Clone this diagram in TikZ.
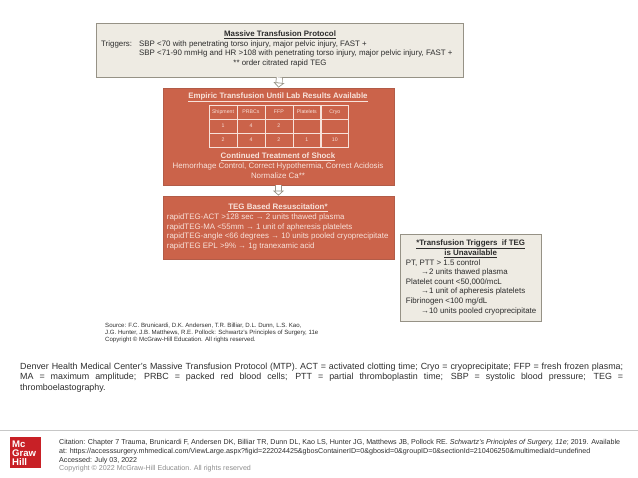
\documentclass[tikz,border=0pt]{standalone}
\usepackage{fontspec}
\setmainfont{Liberation Sans}
\usepackage{tikz}
\usetikzlibrary{arrows.meta,positioning,calc}
\usepackage{xcolor}
\definecolor{paleBeige}{RGB}{238,235,227}
\definecolor{beigeEdge}{RGB}{150,146,134}
\definecolor{brickRed}{RGB}{203,99,74}
\definecolor{brickEdge}{RGB}{178,92,72}
\definecolor{paleText}{RGB}{248,226,218}
\definecolor{inkGrey}{RGB}{45,45,45}
\definecolor{logoRed}{RGB}{200,32,38}

\begin{document}
\begin{tikzpicture}[x=1pt, y=-1pt, >=Latex]
  \tikzstyle{beigebox}=[rectangle, draw=beigeEdge, fill=paleBeige, line width=0.9pt, inner sep=0pt]
  \tikzstyle{redbox}=[rectangle, draw=brickEdge, fill=brickRed, line width=0.8pt, inner sep=0pt]
  \tikzstyle{line}=[inner sep=0pt, font=\fontsize{7.9}{9}\selectfont, text=inkGrey]
  \tikzstyle{boldline}=[line, font=\fontsize{7.9}{9}\selectfont\bfseries]
  \tikzstyle{paleline}=[line, text=paleText]
  \tikzstyle{paletitle}=[boldline, text=paleText]
  \tikzstyle{cell}=[rectangle, draw=paleText, line width=0.7pt, inner sep=0pt, minimum width=27.9pt, minimum height=14pt, font=\fontsize{5.2}{6}\selectfont, text=paleText]
  \tikzstyle{hollow}=[draw=beigeEdge, double=white, double distance=5.5pt, line width=0.7pt, -{Triangle[open, fill=white, length=5pt, width=11pt]}]
  \useasboundingbox (0,0) rectangle (638,478);

  \node[beigebox, minimum width=367pt, minimum height=54pt] (massive) at (279.5,50) {};
  \node[redbox, minimum width=231pt, minimum height=97pt] (empiric) at (278.5,136.5) {};
  \node[redbox, minimum width=231pt, minimum height=63pt] (teg) at (278.5,227.5) {};
  \node[beigebox, minimum width=141pt, minimum height=87pt] (unavailable) at (470.5,277.5) {};
  \draw[hollow] (massive.south) -- (empiric.north);
  \draw[hollow] (empiric.south) -- (teg.north);

  \node[boldline] (massivetitle) at (280,34.7) {\underline{Massive Transfusion Protocol}};
  \node[line, anchor=west] (triggers) at (101,44) {Triggers:};
  \node[line, anchor=west] (trigone) at (139,44) {SBP <70 with penetrating torso injury, major pelvic injury, FAST +};
  \node[line, anchor=west] (trigtwo) at (139,53.3) {SBP <71-90 mmHg and HR >108 with penetrating torso injury, major pelvic injury, FAST +};
  \node[line] (order) at (280,63) {** order citrated rapid TEG};

  \node[paletitle] (empirictitle) at (278,97) {\underline{Empiric Transfusion Until Lab Results Available}};
  \foreach \name/\txt [count=\col from 0] in {Shipment/Shipment, PRBCs/PRBCs, FFP/FFP, Platelets/Platelets, Cryo/Cryo}
    \node[cell] (head\name) at (223+\col*27.95,112) {\txt};
  \foreach \name/\txt [count=\col from 0] in {a/1, b/4, c/2, d/, e/}
    \node[cell] (first\name) at (223+\col*27.95,126) {\txt};
  \foreach \name/\txt [count=\col from 0] in {a/2, b/4, c/2, d/1, e/10}
    \node[cell] (second\name) at (223+\col*27.95,140) {\txt};
  \node[paletitle] (shocktitle) at (278,156.7) {\underline{Continued Treatment of Shock}};
  \node[paleline] (control) at (278,166) {Hemorrhage Control, Correct Hypothermia, Correct Acidosis};
  \node[paleline] (normalize) at (278,175.7) {Normalize Ca**};

  \node[paletitle] (tegtitle) at (278,208) {\underline{TEG Based Resuscitation*}};
  \node[paleline, anchor=west] (act) at (166.7,217.7) {rapidTEG-ACT >128 sec → 2 units thawed plasma};
  \node[paleline, anchor=west] (ma) at (166.7,227.3) {rapidTEG-MA <55mm → 1 unit of apheresis platelets};
  \node[paleline, anchor=west] (angle) at (166.7,236.7) {rapidTEG-angle <66 degrees → 10 units pooled cryoprecipitate};
  \node[paleline, anchor=west] (epl) at (166.7,246) {rapidTEG EPL >9\% → 1g tranexamic acid};

  \node[boldline] (unavtitle) at (470.7,244) {\underline{*Transfusion Triggers~ if TEG}};
  \node[boldline] (unavtitleb) at (470.7,254) {\underline{is Unavailable}};
  \node[line, anchor=west] (pt) at (405.7,263) {PT, PTT > 1.5 control};
  \node[line, anchor=west] (ptgive) at (421,272.7) {→2 units thawed plasma};
  \node[line, anchor=west] (plate) at (405.7,282) {Platelet count <50,000/mcL};
  \node[line, anchor=west] (plategive) at (421,291.7) {→1 unit of apheresis platelets};
  \node[line, anchor=west] (fib) at (405.7,301) {Fibrinogen <100 mg/dL};
  \node[line, anchor=west] (fibgive) at (421,311) {→10 units pooled cryoprecipitate};

  \node[line, anchor=north west, align=left, font=\fontsize{6.1}{7}\selectfont] (source) at (105,322.6) {Source: F.C. Brunicardi, D.K. Andersen, T.R. Billiar, D.L. Dunn, L.S. Kao,\\J.G. Hunter, J.B. Matthews, R.E. Pollock: Schwartz's Principles of Surgery, 11e\\Copyright © McGraw-Hill Education. All rights reserved.};

  \node[line, anchor=north west, text width=603pt, align=justify, font=\fontsize{8.9}{10.5}\selectfont] (caption) at (20,362.5) {Denver Health Medical Center's Massive Transfusion Protocol (MTP). ACT = activated clotting time; Cryo = cryoprecipitate; FFP = fresh frozen plasma;\linebreak MA = maximum amplitude; PRBC = packed red blood cells; PTT = partial thromboplastin time; SBP = systolic blood pressure; TEG =\linebreak thromboelastography.};

  \coordinate (ruleleft) at (0,430);
  \coordinate (ruleright) at (638,430);
  \draw[black!22, line width=0.8pt] (ruleleft) -- (ruleright);
  \node[rectangle, fill=logoRed, minimum size=31pt, inner sep=0pt] (logo) at (25.8,452.5) {};
  \node[anchor=west, inner sep=0pt, align=left, text=white, font=\fontsize{9.6}{9}\selectfont\bfseries] (logotext) at (12,452.7) {Mc\\Graw\\Hill};

  \node[line, anchor=north west, align=left, font=\fontsize{7.13}{8.6}\selectfont] (citation) at (59,439.5) {Citation: Chapter 7 Trauma, Brunicardi F, Andersen DK, Billiar TR, Dunn DL, Kao LS, Hunter JG, Matthews JB, Pollock RE. \textit{Schwartz's Principles of Surgery, 11e}; 2019. Available\\at: https://accesssurgery.mhmedical.com/ViewLarge.aspx?figid=222024425\&gbosContainerID=0\&gbosid=0\&groupID=0\&sectionId=210406250\&multimediaId=undefined\\Accessed: July 03, 2022\\\textcolor{black!45}{Copyright © 2022 McGraw-Hill Education. All rights reserved}};
\end{tikzpicture}
\end{document}
